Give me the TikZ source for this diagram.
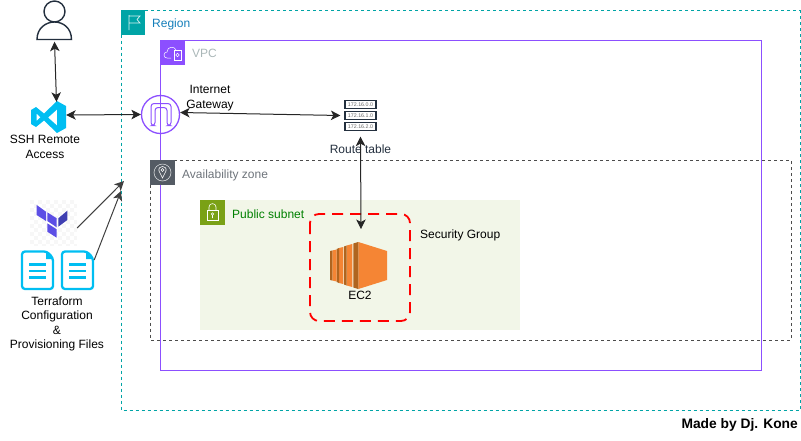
\documentclass[tikz,border=0pt]{standalone}
\usepackage{fontspec}
\setmainfont{Liberation Sans}
\usetikzlibrary{arrows.meta}
\definecolor{regionteal}{HTML}{00A4A6}
\definecolor{regionblue}{HTML}{147EBA}
\definecolor{vpcpurple}{HTML}{8C4FFF}
\definecolor{vpcgray}{HTML}{AAB7B8}
\definecolor{azgray}{HTML}{545B64}
\definecolor{subnetgreen}{HTML}{7AA116}
\definecolor{subnetfill}{HTML}{F2F6E8}
\definecolor{vscyan}{HTML}{00BEF2}
\definecolor{tfpurple}{HTML}{5C4EE5}
\definecolor{tfdark}{HTML}{4040B2}
\definecolor{ecorange}{HTML}{F58534}
\definecolor{ecdark}{HTML}{B0651F}
\definecolor{slate}{HTML}{232F3E}
\tikzset{
  label12/.style={font=\fontsize{12}{14.5}\selectfont,align=center,inner sep=0pt},
  labelleft/.style={label12,anchor=west},
  iconbox/.style={inner sep=0pt,minimum width=#1,minimum height=#1},
  conn/.style={<->,>={Stealth[length=9.5pt,width=9.5pt,inset=2.5pt]},line width=1pt,color=black!85},
  connone/.style={->,>={Stealth[length=9.5pt,width=9.5pt,inset=2.5pt]},line width=1pt,color=black!75},
  rtrow/.style={draw=slate,line width=1.2pt,fill=white,inner sep=0pt,minimum width=31pt,minimum height=8pt,font=\fontsize{5.3}{6}\selectfont,text=black!60}
}
\begin{document}
\begin{tikzpicture}[x=1pt,y=-1pt]
  \useasboundingbox (0,0) rectangle (801,440);
  % containers
  \draw[regionteal,line width=0.9pt,dash pattern=on 3pt off 3pt] (121,10.5) rectangle (800,410);
  \draw[vpcpurple,line width=1pt] (160.5,40.5) rectangle (761,370);
  \draw[black!70,line width=0.7pt,dash pattern=on 3pt off 3pt] (150.5,160.5) rectangle (791,340);
  \fill[subnetfill] (200,200) rectangle (520,330);
  \draw[red,line width=1.8pt,dash pattern=on 11pt off 7pt,rounded corners=9pt] (310,214) rectangle (410,321);
  % region tab
  \fill[regionteal] (121,10) rectangle (145,35);
  \draw[white!85!regionteal,line width=0.7pt] (129,15) -- (129,30) (129,16) -- (140,16) -- (137,19.5) -- (140,23) -- (129,23);
  \node[labelleft,text=regionblue] at (152,24.5) {Region};
  % vpc tab
  \fill[vpcpurple] (160,40) rectangle (185,65);
  \draw[white,line width=0.5pt] (171,58) -- (167,58) .. controls (163,58) and (163,52) .. (167,52) .. controls (167,46) and (175,46) .. (176,50);
  \draw[white,line width=0.5pt] (174,50) rectangle (181,60);
  \draw[white,line width=0.5pt] (177.5,55) circle (1.8);
  \node[labelleft,text=vpcgray] at (192,53.5) {VPC};
  % az tab
  \fill[azgray] (150,160) rectangle (175,185);
  \draw[white!85!azgray,line width=0.5pt] (162.5,172.5) circle (8.5);
  \draw[white,line width=0.6pt] (162.5,178) -- (159,171) .. controls (157.5,165) and (167.5,165) .. (166,171) -- cycle;
  \draw[white,line width=0.5pt] (162.5,170) circle (1.5);
  \node[labelleft,text=azgray!85] at (182,175) {Availability zone};
  % subnet tab
  \fill[subnetgreen] (200,200) rectangle (225,225);
  \draw[white,line width=0.6pt] (207,210) rectangle (218,220);
  \draw[white,line width=0.6pt] (209,210) -- (209,207) .. controls (209,202.5) and (216,202.5) .. (216,207) -- (216,210);
  \draw[white,line width=0.6pt] (212.5,214) circle (1.3) (212.5,215.3) -- (212.5,218);
  \node[labelleft,text=green!50!black] at (232,214) {Public subnet};
  % user
  \node[iconbox=36pt,minimum height=41pt] (user) at (54.5,21) {};
  \draw[slate,line width=1.4pt,fill=white] (54.5,11.5) circle (10.5);
  \draw[slate,line width=1.4pt,fill=white] (37,39.5) .. controls (37,28) and (46,22) .. (54.5,22) .. controls (63,22) and (71.5,28) .. (71.5,39.5) -- cycle;
  % vscode
  \node[iconbox=36pt,minimum height=32pt] (vscode) at (48,117) {};
  \fill[vscyan,even odd rule] (57,101) -- (66,106) -- (66,128) -- (57,133) -- (44,120.5) -- (36,127) -- (31,124) -- (31,110) -- (36,107) -- (44,113.5) -- cycle
    (36.5,113.5) -- (36.5,121) -- (40.5,117.3) -- cycle
    (57,109.5) -- (48,117.5) -- (57,125.5) -- cycle;
  \node[label12] (vslabel) at (45,147) {SSH Remote\\Access};
  % gateway
  \node[draw=vpcpurple,line width=1.3pt,circle,inner sep=0pt,minimum size=38pt] (igw) at (160.5,114.5) {};
  \draw[vpcpurple,line width=1pt,rounded corners=3pt] (151,125.5) -- (151,103.5) -- (171,103.5) -- (171,125.5) -- (167,125.5) -- (167,107.5) -- (155,107.5) -- (155,125.5) -- cycle;
  \node[label12] (igwlabel) at (210,98) {Internet\\Gateway};
  % route table
  \node[rtrow] (rta) at (360.5,104.5) {172.16.0.0};
  \node[rtrow] (rtb) at (360.5,115.5) {172.16.1.0};
  \node[rtrow] (rtc) at (360.5,126.5) {172.16.2.0};
  \node[label12,text=slate] (rtlabel) at (360.5,149) {Route table};
  % terraform
  \node[iconbox=47pt] (tf) at (53.5,223) {};
  \foreach \i in {0,...,11}
    \foreach \j in {0,...,11}{
      \pgfmathparse{int(mod(\i+\j,2))}
      \ifnum\pgfmathresult=0 \fill[black!3] (30+\i*4,200+\j*4) rectangle ({min(77,34+\i*4)},{min(246,204+\j*4)}); \fi
    }
  \fill[tfpurple] (36.7,205) -- (46,211.7) -- (46,221) -- (36.7,215) -- cycle;
  \fill[tfpurple] (47.3,212.3) -- (56.7,218.3) -- (56.7,227.3) -- (47.3,221) -- cycle;
  \fill[tfdark] (58.3,218.3) -- (67.3,210.7) -- (67.3,220) -- (58.3,226.7) -- cycle;
  \fill[tfpurple] (47.3,223.3) -- (56.7,229.3) -- (56.7,237.7) -- (47.3,231.7) -- cycle;
  % files
  \foreach \n/\dx in {doca/0,docb/40}{
    \node[iconbox=33pt,minimum height=40pt] (\n) at (37.5+\dx,270) {};
    \fill[vscyan,xshift=\dx] (46,251) -- (46,259) -- (53,259) -- cycle;
    \draw[vscyan,line width=2.3pt,rounded corners=3pt,xshift=\dx] (22,251.5) -- (47,251.5) -- (53,258) -- (53,289) -- (22,289) -- cycle;
    \foreach \y in {264.3,271,277.7}
      \draw[vscyan,line width=2.5pt,xshift=\dx] (29,\y) -- (45.5,\y);
  }
  \node[label12] (tflabel) at (57,324) {Terraform\\Configuration\\\&\\Provisioning Files};
  % ec2
  \fill[ecorange] (358.3,242) -- (387,251) -- (387,280) -- (358.3,289) -- cycle;
  \fill[ecdark] (353.3,243.5) -- (358.3,242) -- (358.3,289) -- (353.3,287.5) -- cycle;
  \fill[ecorange] (346.7,245.5) -- (352.3,244) -- (352.3,287) -- (346.7,285.5) -- cycle;
  \fill[ecdark] (344,246.5) -- (346.7,245.5) -- (346.7,285.5) -- (344,284.5) -- cycle;
  \fill[ecorange] (339,248) -- (343.3,247) -- (343.3,284) -- (339,283) -- cycle;
  \fill[ecdark] (336.7,249) -- (339,248) -- (339,283) -- (336.7,282) -- cycle;
  \fill[ecorange] (332.3,250.5) -- (336.7,249.5) -- (336.7,281.5) -- (332.3,280.5) -- cycle;
  \fill[ecdark] (330,251) -- (332.3,250.5) -- (332.3,280.5) -- (330,280) -- cycle;
  \node[iconbox=57pt,minimum height=48pt] (ec2) at (358.5,265.5) {};
  \node[label12] (eclabel) at (360,295) {EC2};
  \node[labelleft] (sglabel) at (420,235.5) {Security Group};
  \coordinate (sgtop) at (361,229);
  % connectors
  \draw[conn] (user.south) -- ([xshift=8.5pt,yshift=-1pt]vscode.north);
  \draw[conn] ([yshift=2pt]vscode.east) -- (igw.west);
  \draw[conn] ([yshift=2pt]igw.east) -- ([xshift=-4pt]rtb.west);
  \draw[conn] ([yshift=-5.5pt]rtc.south) -- (sgtop);
  \coordinate (regiona) at (124,181);
  \coordinate (regionb) at (121,191);
  \draw[connone] ([yshift=-5pt]tf.east) -- (regiona);
  \draw[connone] ([yshift=10pt]docb.east) -- (regionb);
  \node[anchor=east,inner sep=0pt,font=\fontsize{13.8}{15}\selectfont\bfseries] (madeby) at (798,424.5) {Made by Dj. Kone};
\end{tikzpicture}
\end{document}
